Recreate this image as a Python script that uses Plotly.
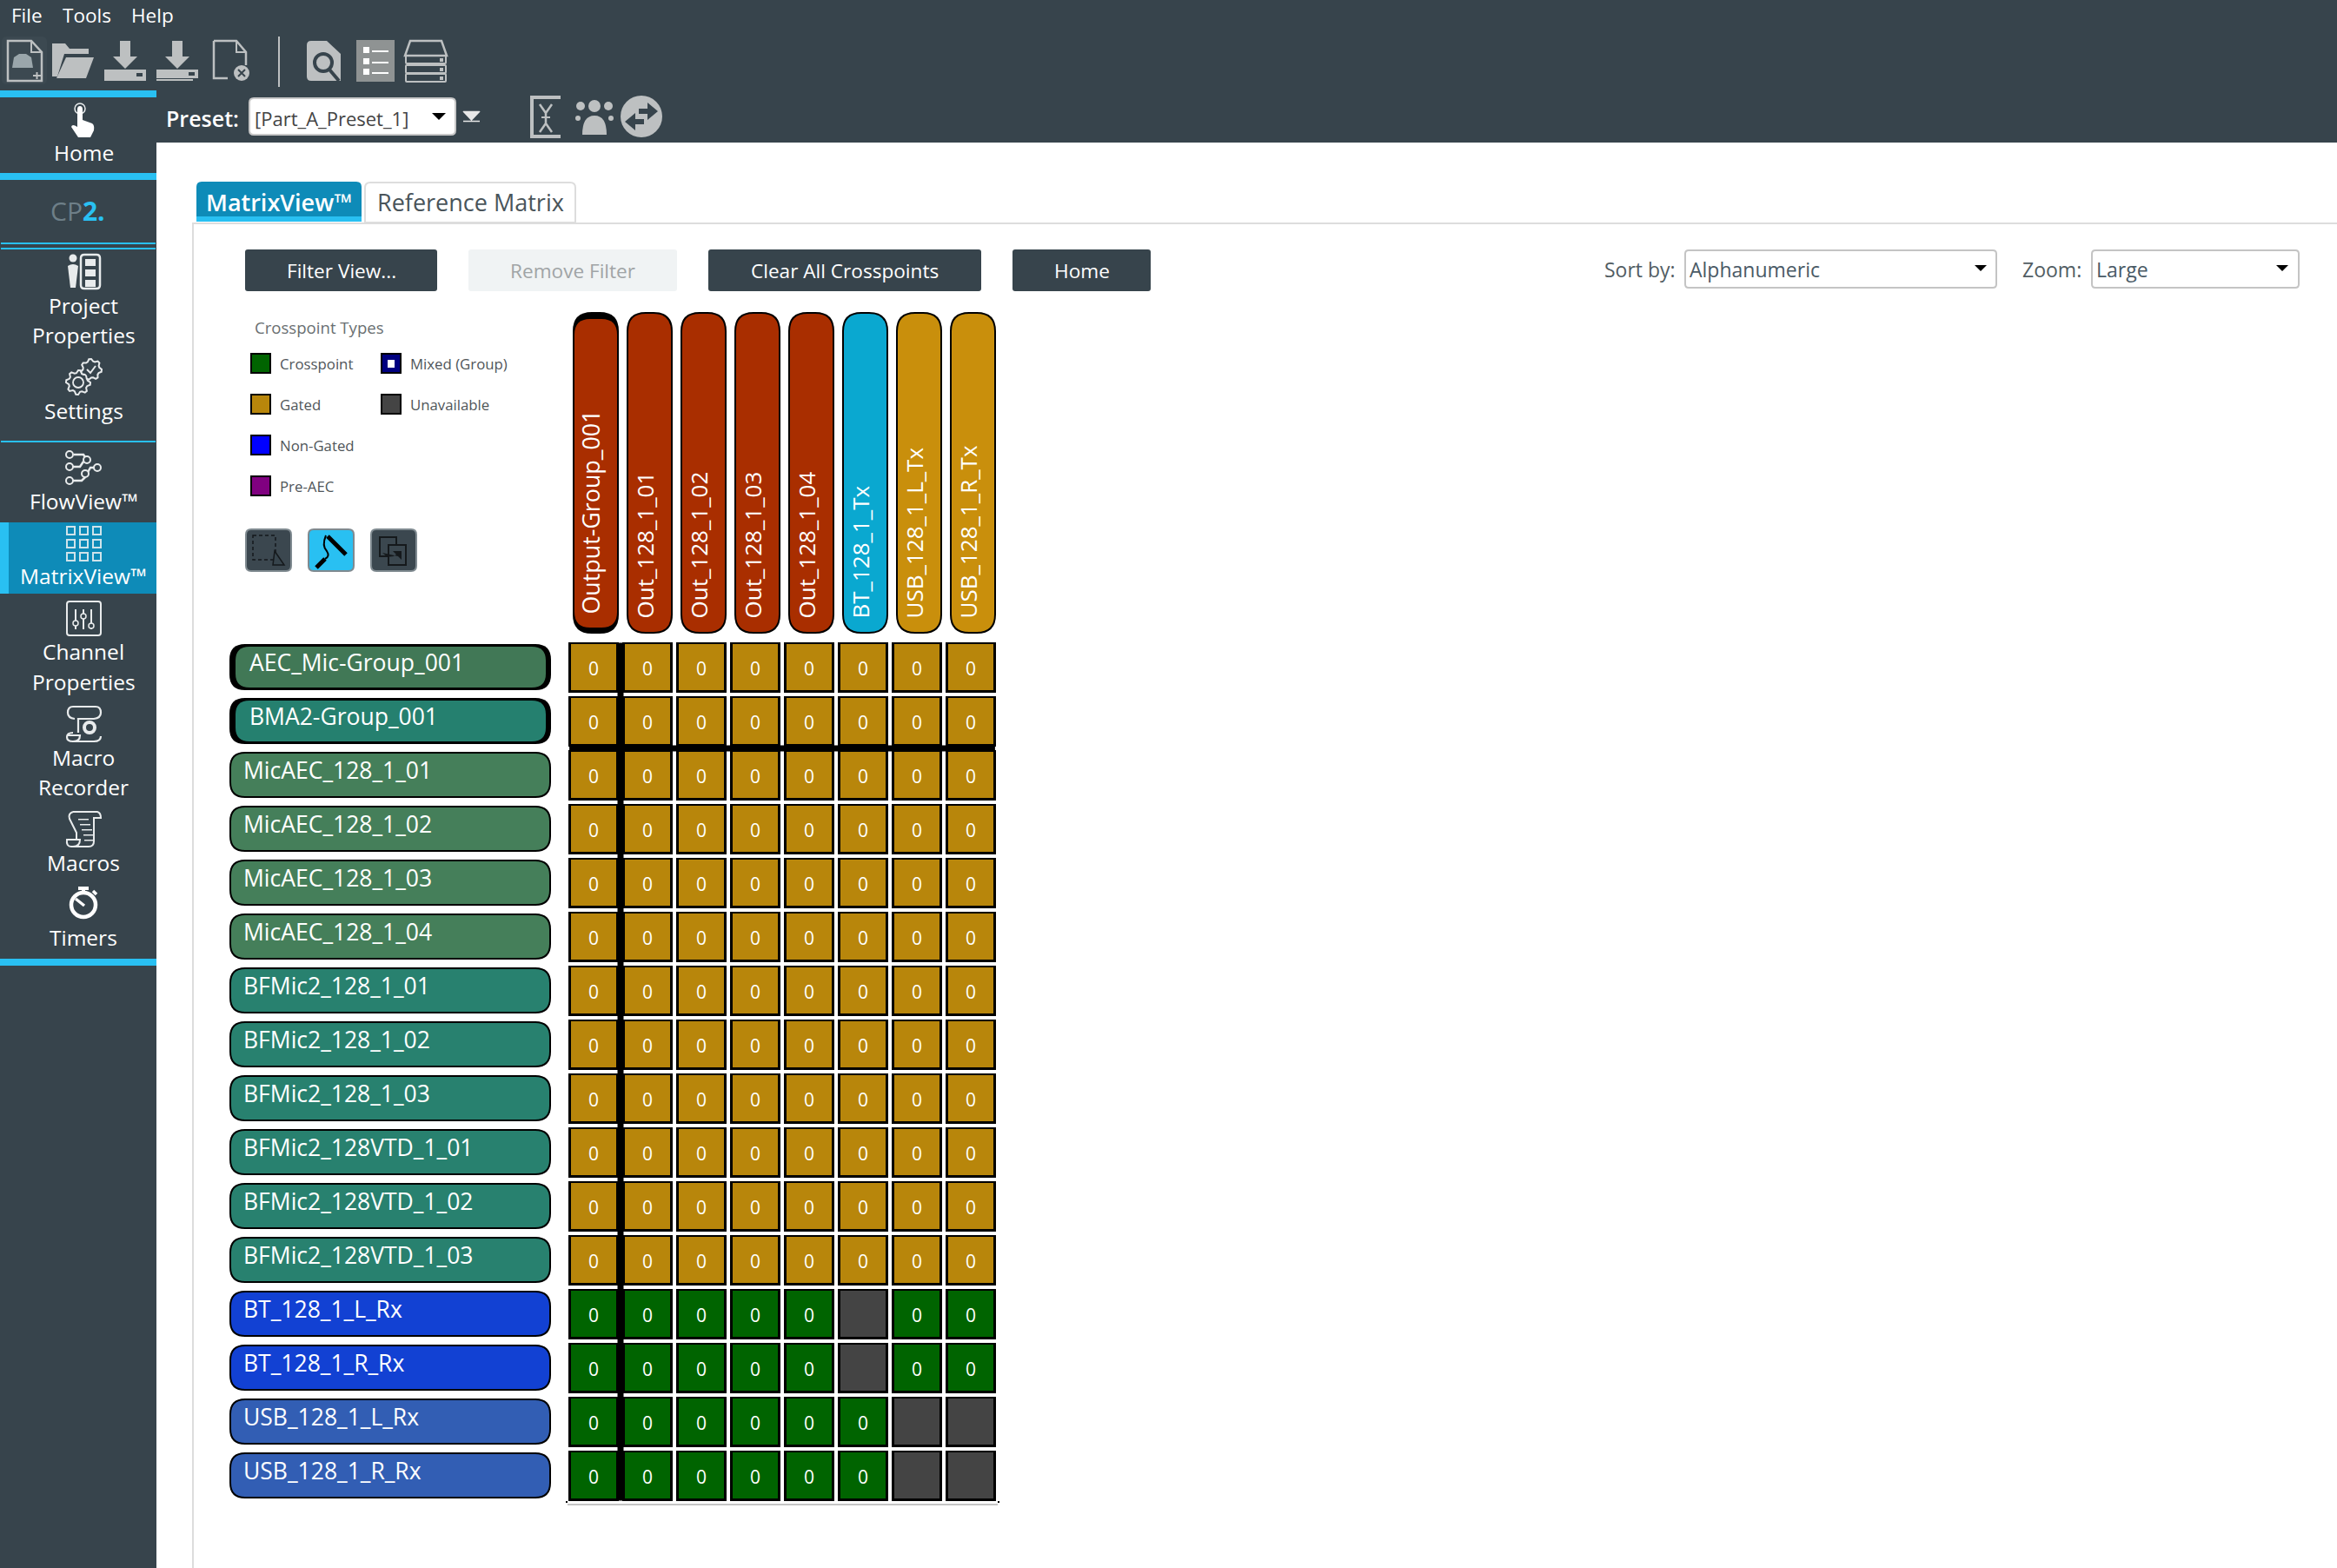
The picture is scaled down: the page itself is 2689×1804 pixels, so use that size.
import math

import plotly.graph_objects as go

# matrix data
row_labels = ["AEC_Mic-Group_001", "BMA2-Group_001", "MicAEC_128_1_01", "MicAEC_128_1_02",
              "MicAEC_128_1_03", "MicAEC_128_1_04", "BFMic2_128_1_01", "BFMic2_128_1_02",
              "BFMic2_128_1_03", "BFMic2_128VTD_1_01", "BFMic2_128VTD_1_02", "BFMic2_128VTD_1_03",
              "BT_128_1_L_Rx", "BT_128_1_R_Rx", "USB_128_1_L_Rx", "USB_128_1_R_Rx"]
row_kinds = ["aec_group", "bf_group", "aec", "aec", "aec", "aec", "bf", "bf", "bf", "bf", "bf", "bf",
             "bt", "bt", "usb", "usb"]
col_labels = ["Output-Group_001", "Out_128_1_01", "Out_128_1_02", "Out_128_1_03", "Out_128_1_04",
              "BT_128_1_Tx", "USB_128_1_L_Tx", "USB_128_1_R_Tx"]
col_kinds = ["out_group", "out", "out", "out", "out", "bt", "usb", "usb"]
# 0 gated, 1 crosspoint, 2 unavailable
cell_types = [
    [0, 0, 0, 0, 0, 0, 0, 0],
    [0, 0, 0, 0, 0, 0, 0, 0],
    [0, 0, 0, 0, 0, 0, 0, 0],
    [0, 0, 0, 0, 0, 0, 0, 0],
    [0, 0, 0, 0, 0, 0, 0, 0],
    [0, 0, 0, 0, 0, 0, 0, 0],
    [0, 0, 0, 0, 0, 0, 0, 0],
    [0, 0, 0, 0, 0, 0, 0, 0],
    [0, 0, 0, 0, 0, 0, 0, 0],
    [0, 0, 0, 0, 0, 0, 0, 0],
    [0, 0, 0, 0, 0, 0, 0, 0],
    [0, 0, 0, 0, 0, 0, 0, 0],
    [1, 1, 1, 1, 1, 2, 1, 1],
    [1, 1, 1, 1, 1, 2, 1, 1],
    [1, 1, 1, 1, 1, 1, 2, 2],
    [1, 1, 1, 1, 1, 1, 2, 2],
]
cell_values = [[0, 0, 0, 0, 0, 0, 0, 0] for _ in row_labels]
legend_labels = ["Crosspoint", "Mixed (Group)", "Gated", "Unavailable", "Non-Gated", "Pre-AEC"]
menu_items = ["File", "Tools", "Help"]
button_labels = ["Filter View...", "Remove Filter", "Clear All Crosspoints", "Home"]

W, H = 2689, 1804
BAR = "#37444c"
CYAN = "#29c0f2"
ACTIVE = "#0e8bb8"
ICON = "#bdc0c1"
NAV = "#e8ebec"
FONT = "Open Sans"
ROW_FILL = {"aec_group": "#417856", "bf_group": "#25806f", "aec": "#457f5a", "bf": "#28816f",
            "bt": "#1241d3", "usb": "#325eb4"}
COL_FILL = {"out_group": "#a92e00", "out": "#a92e00", "bt": "#0aa8d0", "usb": "#c98f0c"}
CELL_SCALE = [[0, "#b8860b"], [0.33, "#b8860b"], [0.33, "#006400"], [0.66, "#006400"],
              [0.66, "#444444"], [1, "#444444"]]
LEGEND_FILL = {"Crosspoint": "#006400", "Mixed (Group)": "#000080", "Gated": "#b8860b",
               "Unavailable": "#444444", "Non-Gated": "#0000ff", "Pre-AEC": "#800080"}

shapes = []
notes = []


def path(d, fill="rgba(0,0,0,0)", line=None, lw=0):
    shapes.append(dict(type="path", path=d, fillcolor=fill, xref="x", yref="y",
                       line=dict(color=line or "rgba(0,0,0,0)", width=lw)))


def rect(x0, y0, x1, y1, fill="rgba(0,0,0,0)", line=None, lw=0, dash="solid"):
    shapes.append(dict(type="rect", x0=x0, y0=y0, x1=x1, y1=y1, fillcolor=fill, xref="x", yref="y",
                       line=dict(color=line or "rgba(0,0,0,0)", width=lw, dash=dash)))


def circle(cx, cy, r, fill="rgba(0,0,0,0)", line=None, lw=0):
    shapes.append(dict(type="circle", x0=cx - r, y0=cy - r, x1=cx + r, y1=cy + r, fillcolor=fill,
                       xref="x", yref="y", line=dict(color=line or "rgba(0,0,0,0)", width=lw)))


def gear(cx, cy, r_out, r_in, teeth, lw=2):
    pts = []
    for k in range(teeth * 4):
        a = 2 * math.pi * k / (teeth * 4)
        r = r_out if k % 4 in (0, 1) else r_in
        pts.append(f"{cx + r * math.cos(a):.1f},{cy + r * math.sin(a):.1f}")
    path("M" + " L".join(pts) + " Z", BAR, NAV, lw)


def rr(x0, y0, x1, y1, r):
    return (f"M{x0 + r},{y0} H{x1 - r} Q{x1},{y0} {x1},{y0 + r} V{y1 - r} Q{x1},{y1} {x1 - r},{y1} "
            f"H{x0 + r} Q{x0},{y1} {x0},{y1 - r} V{y0 + r} Q{x0},{y0} {x0 + r},{y0} Z")


def rrect(x0, y0, x1, y1, r, fill="rgba(0,0,0,0)", line=None, lw=0):
    path(rr(x0, y0, x1, y1, r), fill, line, lw)


def top_rr(x0, y0, x1, y1, r):
    return f"M{x0},{y1} V{y0 + r} Q{x0},{y0} {x0 + r},{y0} H{x1 - r} Q{x1},{y0} {x1},{y0 + r} V{y1} Z"


def txt(x, y, s, size, color="#ffffff", anchor="center", weight=None, angle=0, yanchor="middle"):
    notes.append(dict(x=x, y=y, text=s, xref="x", yref="y", showarrow=False, xanchor=anchor,
                      yanchor=yanchor, textangle=angle, borderpad=0,
                      font=dict(family=FONT, size=size, color=color, weight=weight or 400)))


# backgrounds
rect(0, 0, W, 164, BAR)
rect(0, 0, 180, H, BAR)
rect(221, 256, W + 5, 258, "#dddddd")
rect(221, 256, 223, H, "#dddddd")

# menu
for label, x in zip(menu_items, [12, 71, 150]):
    txt(x, 17, label, 22.5, anchor="left")

# toolbar icons
rrect(2, 42, 54, 97, 6, "#3c4951")
path("M9,47 H36 L48,60 V93 H9 Z", line=ICON, lw=2.5)
path("M36,47 V60 H48", line=ICON, lw=2)
path("M14,78 L16,66 L22,62 L30,62 L36,66 L38,78 Z", "#9aa6ab")
path("M38,87 H47 M42.5,83 V91", line=ICON, lw=2)
path("M60,50 H75 L80,56 H102 V62 H74 L66,88 H60 Z", ICON)
path("M76,66 H108 L99,90 H65 Z", ICON)
for off in (0, 60):
    path(f"M{138 + off},47 H{150 + off} V65 H{158 + off} L{144 + off},79 L{130 + off},65 H{138 + off} Z", ICON)
rect(120, 80, 168, 93, ICON)
rect(157, 84, 164, 88, BAR)
rect(180, 80, 228, 90, ICON)
rect(217, 83, 224, 87, BAR)
path("M180,92 H222", line=ICON, lw=2)
path("M246,47 H272 L283,60 V75 M262,90 H246 V47", line=ICON, lw=2.5)
path("M272,47 V60 H283", line=ICON, lw=2)
circle(278, 84, 9, ICON)
path("M274,80 L282,88 M282,80 L274,88", line=BAR, lw=2)
rect(320, 42, 322, 100, ICON)
path("M358,47 H376 L392,62 V93 H358 Q353,93 353,88 V52 Q353,47 358,47 Z", ICON)
circle(372, 72, 10, line=BAR, lw=4)
path("M379,80 L390,93", line=BAR, lw=4)
rect(410, 46, 454, 94, "#8f9393")
for y in (54, 67, 79):
    rect(418, y, 425, y + 7, "#ffffff")
    rect(428, y + 4, 447, y + 6, "#ffffff")
path("M472,47 H508 L514,64 H466 Z", line=ICON, lw=2.5)
for y in (64, 75, 85):
    rrect(467, y, 513, y + 9, 1, line=ICON, lw=2)
    rect(506, y + 3, 510, y + 7, ICON)

# cyan rules in the sidebar
rect(0, 104, 180, 112, CYAN)
rect(0, 199, 180, 207, CYAN)
rect(1, 279, 179, 281, CYAN)
rect(1, 285, 179, 287, CYAN)
rect(1, 507, 179, 509, CYAN)
rect(0, 1103, 180, 1111, CYAN)

# preset row
txt(190, 136, "Preset:", 25, anchor="left", weight=600)
rrect(287, 113, 524, 155, 5, "#ffffff", "#c8c8c8", 2)
txt(292, 136, "[Part_A_Preset_1]", 22, "#444444", anchor="left")
path("M497,130 H513 L505,138 Z", "#000000")
path("M533,128.5 H552 M542.5,138 L534,129 H551 Z M533,139.5 H552", "#e8e8e8", "#e8e8e8", 1.5)
path("M645,112 H612 V157 H645", line=ICON, lw=4)
path("M621,120 L628,130 L635,120 M628,130 V142 M621,152 L628,142 L635,152", line=ICON, lw=2.5)
path("M623,135 H633", line=ICON, lw=2)
for cx, cy, r in [(668, 122, 5), (684, 122, 7), (700, 122, 5), (665, 136, 3), (703, 136, 3)]:
    circle(cx, cy, r, ICON)
path("M670,155 Q670,133 684,133 Q698,133 698,155 Z", ICON)
circle(738, 134, 24, ICON)
path("M735,125 H745 V118 L757,128 L745,138 V131 H735 Z", BAR)
path("M741,137 H731 V130 L719,140 L731,150 V143 H741 Z", BAR)

# sidebar nav
rect(0, 601, 180, 683, ACTIVE)
rect(0, 601, 10, 683, CYAN)
notes.append(dict(x=89, y=242, xref="x", yref="y", showarrow=False, borderpad=0,
                  text=f"<span style='color:#6e7f88'>CP</span><span style='color:{CYAN}'><b>2.</b></span>",
                  font=dict(family=FONT, size=30)))
for label, y in [("Home", 175), ("Project", 351), ("Properties", 385), ("Settings", 472), ("FlowView™", 576),
                 ("MatrixView™", 662), ("Channel", 749), ("Properties", 784), ("Macro", 871),
                 ("Recorder", 905), ("Macros", 992), ("Timers", 1078)]:
    txt(96, y, label, 24.5)

circle(92, 125, 6, line=NAV, lw=1.5)
path("M89,126 Q89,122 92,122 Q95,122 95,126 V138 L106,142 Q109,144 108,150 L104,158 H90 L82,146 Q83,142 89,146 Z", "#ffffff")
circle(84, 297, 4.5, NAV)
path("M78,306 Q84,302 90,306 L87,331 H81 Z", NAV)
rrect(93, 293, 115, 332, 4, line=NAV, lw=2.5)
for y in (298, 310, 322):
    rect(98, y, 110, y + 8, NAV)
gear(90, 440, 14, 11, 8)
circle(90, 440, 6, line=NAV, lw=1.8)
gear(105, 425, 12, 9.5, 7)
path("M100,425 L104,429 L110,421", line=NAV, lw=2)
path("M85,523 H96 L100,529 M84,537 H92 L96,531 M108,538 H104 L100,545 M84,553 H94 L98,549", line=NAV, lw=2.5)
for cx, cy in [(80, 523), (100, 529), (80, 537), (112, 538), (80, 553), (98, 545)]:
    circle(cx, cy, 4, BAR, NAV, 2)
for ix in (76, 91, 106):
    for iy in (605, 620, 635):
        rect(ix + 1, iy + 1, ix + 10, iy + 10, line="#cfe3ea", lw=2)
rrect(77, 692, 116, 731, 3, line=NAV, lw=2)
for x, yk in [(87, 717), (96, 709), (105, 720)]:
    path(f"M{x},701 V{yk - 3} M{x},{yk + 3} V724", line=NAV, lw=2)
    circle(x, yk, 3, line=NAV, lw=1.5)
path("M84,813 H110 Q116,813 116,820 Q116,826 108,827 H90 V843 M84,813 Q78,813 78,820 Q78,826 86,827 "
     "M84,843 Q77,843 77,848 Q77,853 84,853 H108 Q116,853 116,847 M77,846 H92 Q92,853 84,853", line=NAV, lw=2.2)
circle(103, 837, 6, line=NAV, lw=4)
path("M84,934 H112 Q116,935 116,941 H108 V968 Q108,974 102,974 H82 Q76,974 77,966 H92 Q92,974 84,974 "
     "M84,934 Q78,936 80,942 L88,958 V966", line=NAV, lw=2)
for y, x0, x1 in [(942, 90, 102), (948, 92, 104), (954, 94, 106), (960, 96, 108), (966, 97, 108)]:
    rect(x0, y, x1, y + 1.5, NAV)
circle(96, 1041, 14, line="#ffffff", lw=4.5)
rect(90, 1020, 102, 1024, "#ffffff")
rect(94, 1023, 98, 1028, "#ffffff")
path("M107,1025 L111,1029", line="#ffffff", lw=3.5)
path("M87,1034 L97,1042", line="#ffffff", lw=3.5)

# tabs
path(top_rr(226, 209, 416, 255, 6), ACTIVE)
rect(226, 249, 416, 255, CYAN)
txt(321, 232, "MatrixView™", 27, anchor="center", weight=600)
path(top_rr(420, 210, 662, 256, 6), "#ffffff", "#dddddd", 2)
txt(541, 232, "Reference Matrix", 27, "#49545a")

# buttons
btn_x = [(282, 503), (539, 779), (815, 1129), (1165, 1324)]
for label, (x0, x1) in zip(button_labels, btn_x):
    off = label == "Remove Filter"
    rrect(x0, 287, x1, 335, 3, "#f0f3f4" if off else BAR)
    txt((x0 + x1) / 2, 311.5, label, 22.6, "#a0a4a6" if off else "#ffffff")

# sort and zoom
txt(1929, 310, "Sort by:", 23, "#525d63", anchor="right")
rrect(1939, 288, 2297, 331, 4, "#ffffff", "#c4c4c4", 2)
txt(1943, 310, "Alphanumeric", 23, "#4a5a66", anchor="left")
path("M2272,305 H2286 L2279,312 Z", "#000000")
txt(2396, 310, "Zoom:", 23, "#525d63", anchor="right")
rrect(2407, 288, 2645, 331, 4, "#ffffff", "#c4c4c4", 2)
txt(2411, 310, "Large", 23, "#4a5a66", anchor="left")
path("M2619,305 H2633 L2626,312 Z", "#000000")

# legend
txt(292, 376, "Crosspoint Types", 18.6, "#6a6f72", anchor="left")
legend_pos = [(288, 406), (438, 406), (288, 453), (438, 453), (288, 500), (288, 547)]
for label, (x, y) in zip(legend_labels, legend_pos):
    rect(x + 1, y + 1, x + 23, y + 23, LEGEND_FILL[label], "#000000", 2)
    txt(x + 33, y + 12, label, 16.8, "#4f5559", anchor="left")
rect(446, 414, 454, 423, "#ffffff")

# tool buttons
for x0, fill in [(283, "#3b474f"), (355, CYAN), (427, "#3b474f")]:
    rrect(x0, 609, x0 + 52, 657, 6, fill, "#7f8a90", 2)
rect(291, 616, 317, 644, line="#15191c", lw=1.5, dash="4px,3px")
path("M316,634 L327,650 L314,650 Z", BAR, "#15191c", 1.5)
path("M377,617 L398,638", line="#000000", lw=5)
path("M375,616 Q370,628 376,634 Q380,640 374,643", line="#000000", lw=2)
path("M374,643 L364,653", line="#000000", lw=5)
rect(437, 618, 456, 640, line="#15191c", lw=2)
rect(447, 627, 467, 650, "#3b474f", "#15191c", 2)
path("M440,636 Q448,644 456,638 L452,634 L462,634 V644 L458,640", "#15191c")

# column headers
for i, (label, kind) in enumerate(zip(col_labels, col_kinds)):
    x0 = 659 + i * 62
    x1 = x0 + 53
    if kind == "out_group":
        rrect(x0, 359, x1, 729, 22, "#000000")
        rrect(x0 + 2, 367, x1 - 2, 722, 18, COL_FILL[kind])
        txt(x0 + 20, 708, label, 26.8, angle=-90, yanchor="bottom")
    else:
        rrect(x0 + 1, 360, x1 - 1, 728, 21, COL_FILL[kind], "#000000", 2)
        txt(x0 + 20, 713, label, 26, angle=-90, yanchor="bottom")

# row labels
for i, (label, kind) in enumerate(zip(row_labels, row_kinds)):
    y0 = 741 + i * 62
    y1 = y0 + 53
    if kind.endswith("_group"):
        rrect(264, y0, 634, y1, 18, "#000000")
        rrect(271, y0 + 3, 628, y1 - 3, 16, ROW_FILL[kind])
        txt(285.5, y0 + 20.5, label, 26.5, anchor="left")
    else:
        rrect(265, y0 + 1, 633, y1 - 1, 17, ROW_FILL[kind], "#000000", 2)
        txt(279, y0 + 20.5, label, 26.5, anchor="left")

# grey rule under the matrix
rect(653, 1730, 1148, 1732, "#c4c4c4")
rect(651, 1727, 653, 1729, "#000000")
rect(1148, 1727, 1150, 1729, "#000000")

# thick group separators, on the matrix axes
shapes.append(dict(type="line", xref="x2", yref="y2", x0=0.5, x1=0.5, y0=-0.46, y1=15.46,
                   line=dict(color="#000000", width=7)))
shapes.append(dict(type="line", xref="x2", yref="y2", x0=-0.45, x1=7.45, y0=1.5, y1=1.5,
                   line=dict(color="#000000", width=7)))

frame = go.Heatmap(x=col_labels, y=row_labels, z=[[0] * len(col_labels) for _ in row_labels],
                   colorscale=[[0, "#000000"], [1, "#000000"]], showscale=False, xgap=4, ygap=4,
                   hoverinfo="skip", xaxis="x2", yaxis="y2")
cells = go.Heatmap(x=col_labels, y=row_labels, z=cell_types, zmin=0, zmax=2, colorscale=CELL_SCALE,
                   showscale=False, xgap=10, ygap=9, hoverinfo="skip", xaxis="x2", yaxis="y2")
# the zeros sit a touch below the cell centre, so they get their own slightly lower axis
cell_text = [[str(v) if t != 2 else "" for v, t in zip(vals, types)]
             for vals, types in zip(cell_values, cell_types)]
zeros = go.Heatmap(x=col_labels, y=row_labels, z=cell_values,
                   colorscale=[[0, "rgba(0,0,0,0)"], [1, "rgba(0,0,0,0)"]], showscale=False,
                   hoverinfo="skip", xaxis="x2", yaxis="y3", text=cell_text, texttemplate="%{text}",
                   textfont=dict(family=FONT, size=21, color="#ffffff"))

fig = go.Figure(data=[frame, cells, zeros])
fig.update_layout(
    width=W, height=H, margin=dict(l=0, r=0, t=0, b=0, pad=0), autosize=False,
    paper_bgcolor="#ffffff", plot_bgcolor="rgba(0,0,0,0)", showlegend=False,
    xaxis=dict(range=[0, W], visible=False, fixedrange=True, domain=[0, 1]),
    yaxis=dict(range=[H, 0], visible=False, fixedrange=True, domain=[0, 1]),
    xaxis2=dict(domain=[652 / W, 1148 / W], anchor="y2", visible=False, type="category",
                range=[-0.5, 7.5], fixedrange=True),
    yaxis2=dict(domain=[1 - 1729 / H, 1 - 737 / H], anchor="x2", visible=False, type="category",
                range=[15.5, -0.5], fixedrange=True),
    yaxis3=dict(domain=[1 - 1730.5 / H, 1 - 738.5 / H], anchor="x2", visible=False, type="category",
                range=[15.5, -0.5], fixedrange=True),
    shapes=shapes, annotations=notes,
)
fig.write_html("out.html", config=dict(displayModeBar=False),
               post_script="document.body.style.margin='0';document.body.style.overflow='hidden';")
